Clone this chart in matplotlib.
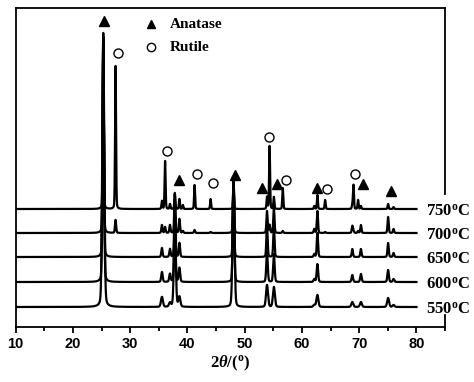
import numpy as np
import matplotlib
matplotlib.use("Agg")
import matplotlib.pyplot as plt

plt.rcParams['mathtext.fontset'] = 'custom'
plt.rcParams['mathtext.rm'] = 'Liberation Serif:bold'
plt.rcParams['mathtext.it'] = 'Liberation Serif:bold:italic'

# Peak positions (2theta)
peak_pos = [25.3, 27.45, 35.55, 36.1, 36.95, 37.8, 38.6, 39.2, 41.25, 44.05,
            48.05, 53.9, 54.35, 55.1, 56.65, 62.15, 62.7, 64.05, 68.8, 69.0,
            69.8, 70.3, 75.05, 76.0]

# Peak heights per temperature (arbitrary units)
h550 = [270, 0, 10, 0, 4, 75, 10, 0, 0, 0, 120, 22, 0, 20, 0, 2, 12, 0, 5, 0, 0, 5, 9, 2]
h600 = [245, 0, 10, 0, 8, 70, 14, 0, 0, 0, 100, 30, 0, 28, 0, 3, 18, 0, 7, 0, 0, 8, 12, 3]
h650 = [220, 0, 9, 0, 8, 55, 14, 0, 0, 0, 80, 32, 0, 30, 0, 3, 24, 0, 8, 0, 0, 8, 14, 4]
h700 = [196, 13, 8, 6, 8, 40, 14, 2, 3, 1, 55, 22, 8, 25, 2, 4, 22, 1, 7, 2, 2, 8, 16, 4]
h750 = [176, 143, 8, 48, 5, 15, 10, 4, 24, 10, 27, 12, 63, 12, 21, 3, 14, 9, 4, 24, 9, 3, 5, 2]

temps = ['550', '600', '650', '700', '750']
heights = [h550, h600, h650, h700, h750]
fwhm = [0.4, 0.3, 0.26, 0.24, 0.2]
offsets = [20, 45, 70, 94, 118]

# marker positions (2theta, height)
anatase_x = [25.5, 38.5, 48.35, 53.1, 55.6, 62.6, 70.7, 75.5]
anatase_y = [306, 147, 152, 139, 143, 139, 143, 136]
rutile_x = [27.85, 36.5, 41.6, 44.5, 54.3, 57.3, 64.3, 69.3]
rutile_y = [274, 176, 153, 144, 190, 147, 138, 153]

fig = plt.figure(figsize=(4.74, 3.82), dpi=100)
ax = fig.add_axes([0.033, 0.144, 0.906, 0.835])

x = np.arange(10, 80.001, 0.01)
for t, h, w, off in zip(temps, heights, fwhm, offsets):
    y = np.zeros_like(x) + off
    for p, a in zip(peak_pos, h):
        d = (x - p) / w
        y += a * (0.8 * np.exp(-4 * np.log(2) * d ** 2) + 0.2 / (1 + 4 * d ** 2))
    ax.plot(x, y, color='black', lw=1.6)
    ax.text(81.6, off - 3, t + r'$^{\rm o}$C', fontsize=12, family='Liberation Serif',
            fontweight='bold', va='center', ha='left')

ax.plot(anatase_x, anatase_y, '^', color='black', ms=7.5, ls='none')
ax.plot(rutile_x, rutile_y, 'o', mfc='white', mec='black', mew=1.0, ms=6.5, ls='none')

# legend
ax.plot([33.65], [303], '^', color='black', ms=6)
ax.plot([33.65], [280], 'o', mfc='white', mec='black', mew=1.0, ms=6)
ax.text(36.9, 303, 'Anatase', fontsize=11, family='Liberation Serif', fontweight='bold', va='center')
ax.text(36.9, 280, 'Rutile', fontsize=11, family='Liberation Serif', fontweight='bold', va='center')

ax.set_xlim(10, 85)
ax.set_ylim(0, 319)
ax.set_yticks([])
ax.set_xticks(range(10, 81, 10))
ax.set_xticks([15, 25, 35, 45, 55, 65, 75, 85], minor=True)
ax.tick_params(axis='x', which='major', direction='out', length=4, width=1.3)
ax.tick_params(axis='x', which='minor', direction='out', length=3, width=1.3)
for lbl in ax.get_xticklabels():
    lbl.set_family('Liberation Sans')
    lbl.set_fontweight('bold')
    lbl.set_fontsize(10.5)

for s in ['left', 'top', 'bottom']:
    ax.spines[s].set_linewidth(1.3)
# right spine has a gap where the temperature labels sit
ax.spines['right'].set_visible(False)
ax.plot([85, 85], [0, 12], color='black', lw=1.3, clip_on=False)
ax.plot([85, 85], [133, 319], color='black', lw=1.3, clip_on=False)

ax.set_xlabel(r'$2\theta$/($^{\rm o}$)', fontsize=12, family='Liberation Serif',
              fontweight='bold', labelpad=2)

fig.savefig('out.png', dpi=100)
